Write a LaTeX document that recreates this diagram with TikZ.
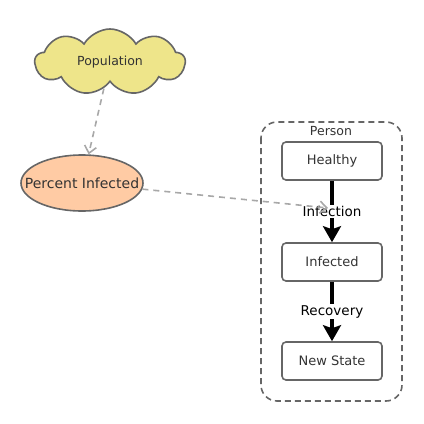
\documentclass[tikz,border=0pt]{standalone}
\usepackage{fontspec}
\setmainfont{DejaVu Sans}
\usepackage{tikz}
\usetikzlibrary{arrows.meta,positioning,shapes.geometric,shapes.symbols}
\definecolor{cLine}{HTML}{666666}
\definecolor{cDash}{HTML}{A8A8A8}
\definecolor{cText}{HTML}{333333}
\definecolor{cPop}{HTML}{EEE58A}
\definecolor{cPct}{HTML}{FFCBA4}
\tikzset{
  stbox/.style={rounded corners=4pt,draw=cLine,line width=1.6pt,fill=white,minimum width=100pt,
                minimum height=38pt,text=cText,font=\fontsize{13}{15}\selectfont},
  ar/.style ={-{Stealth[length=16pt,width=18pt,inset=3pt]},line width=3.5pt,black},
  dar/.style={-{Straight Barb[length=7pt,width=12pt]},line width=1.6pt,cDash,dash pattern=on 6pt off 5pt},
  lbl/.style={font=\fontsize{13.5}{15}\selectfont,fill=white,inner sep=1.5pt},
}

\begin{document}
\begin{tikzpicture}[x=1pt,y=-1pt]
\useasboundingbox (0,0) rectangle (424,424);
% container
\draw[cLine,line width=1.6pt,dash pattern=on 6pt off 4pt,rounded corners=16pt]
  (261,122) rectangle (402,401);
\node[font=\fontsize{12.5}{14}\selectfont,text=cText,inner sep=0pt] (person) at (331,131) {Person};
% states
\node[stbox] (healthy)  at (332,161) {Healthy};
\node[stbox] (infected) at (332,262) {Infected};
\node[stbox] (newstate) at (332,361) {New State};
\draw[ar] (healthy) -- node[lbl] (lblinf) {Infection} (infected);
\draw[ar] (infected) -- node[lbl] (lblrec) {Recovery} (newstate);
% inputs
\node[cloud,cloud puffs=9,cloud puff arc=120,aspect=2.4,draw=cLine,line width=1.6pt,fill=cPop,
      minimum width=150pt,minimum height=66pt,inner xsep=-10pt,text=cText,
      font=\fontsize{12.5}{14}\selectfont]
  (pop) at (110,62) {Population};
\node[ellipse,draw=cLine,line width=1.6pt,fill=cPct,minimum width=122pt,minimum height=56pt,
      inner xsep=-22pt,inner ysep=0pt,text=cText,font=\fontsize{14}{16}\selectfont]
  (pct) at (82,183) {Percent Infected};
\coordinate (tgt) at (328,208);
\draw[dar] (pop) -- (pct);
\draw[dar] (pct) -- (tgt);
\end{tikzpicture}
\end{document}
